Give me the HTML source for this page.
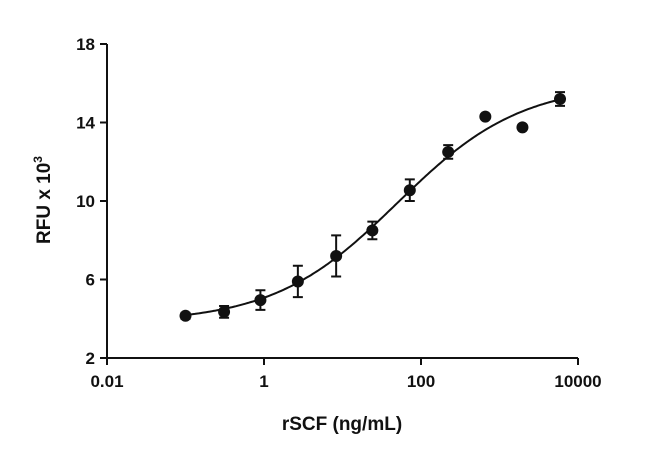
<!DOCTYPE html>
<html><head><meta charset="utf-8"><style>
body{margin:0;background:#fff;}
svg text{font-family:"Liberation Sans",Arial,sans-serif;font-weight:bold;fill:#111;}
</style></head><body>
<svg id="chart" width="650" height="460" viewBox="0 0 650 460" xmlns="http://www.w3.org/2000/svg">
<g id="axes"></g><g id="curve"></g><g id="points"></g>
<text x="342" y="430" font-size="19" text-anchor="middle">rSCF (ng/mL)</text>
<text transform="translate(50,200) rotate(-90)" font-size="19" text-anchor="middle">RFU x 10<tspan font-size="12" dy="-8">3</tspan></text>
</svg>
<script>
const conc = [0.1, 0.31, 0.9, 2.7, 8.3, 24, 72, 222, 660, 1960, 5900];
const rfu = [4.15, 4.35, 4.95, 5.9, 7.2, 8.5, 10.55, 12.5, 14.3, 13.75, 15.2];
const err = [0.15, 0.3, 0.5, 0.8, 1.05, 0.45, 0.55, 0.35, 0, 0, 0.35];
const yTicks = [2, 6, 10, 14, 18];
const xTicks = [0.01, 1, 100, 10000];
const xTickLabels = ["0.01", "1", "100", "10000"];
const fitParams = [3.8, 16, 50, 0.55]; // bottom, top, EC50, hill

const NS="http://www.w3.org/2000/svg";
const X0=107,X1=578,Y0=358,Y1=44;
const xs=v=>X0+(Math.log10(v)+2)/6*(X1-X0);
const ys=v=>Y0-(v-2)/16*(Y0-Y1);
function mk(tag,attrs,parent){const e=document.createElementNS(NS,tag);for(const k in attrs)e.setAttribute(k,attrs[k]);parent.appendChild(e);return e;}
const ax=document.getElementById('axes');
let l=mk('line',{x1:X0,y1:Y1,x2:X0,y2:Y0,stroke:'#111','stroke-width':2},ax);


l=mk('line',{x1:X0,y1:Y0,x2:X1,y2:Y0,stroke:'#111','stroke-width':2},ax);


yTicks.forEach(t=>{
 const y=ys(t);
 mk('line',{x1:X0-7,y1:y,x2:X0,y2:y,stroke:'#111','stroke-width':2},ax);
 const tx=mk('text',{x:X0-12,y:y+6,'font-size':17,'text-anchor':'end'},ax);
 tx.textContent=t;
 
 
});
xTicks.forEach((t,i)=>{
 const x=xs(t);
 mk('line',{x1:x,y1:Y0,x2:x,y2:Y0+7,stroke:'#111','stroke-width':2},ax);
 const tx=mk('text',{x:x,y:Y0+29,'font-size':17,'text-anchor':'middle'},ax);
 tx.textContent=xTickLabels[i];
 
 
});
const [b,tp,ec,h]=fitParams;
let d='';
const lo=Math.log10(conc[0]),hi=Math.log10(conc[conc.length-1]);
for(let i=0;i<=200;i++){const lx=lo+(hi-lo)*i/200;const c=Math.pow(10,lx);const v=b+(tp-b)/(1+Math.pow(ec/c,h));d+=(i?'L':'M')+xs(c).toFixed(1)+','+ys(v).toFixed(1);}
const cv=mk('path',{d:d,fill:'none',stroke:'#111','stroke-width':2},document.getElementById('curve'));


const pg=document.getElementById('points');
conc.forEach((c,i)=>{
 const x=xs(c),y=ys(rfu[i]);
 if(err[i]>0){
  const g=mk('path',{d:`M${x},${ys(rfu[i]+err[i])}V${ys(rfu[i]-err[i])}M${x-5},${ys(rfu[i]+err[i])}H${x+5}M${x-5},${ys(rfu[i]-err[i])}H${x+5}`,stroke:'#111','stroke-width':2,fill:'none'},pg);
  
  
 }
 const p=mk('circle',{cx:x,cy:y,r:6,fill:'#111'},pg);
 
 
});
</script>
</body></html>
